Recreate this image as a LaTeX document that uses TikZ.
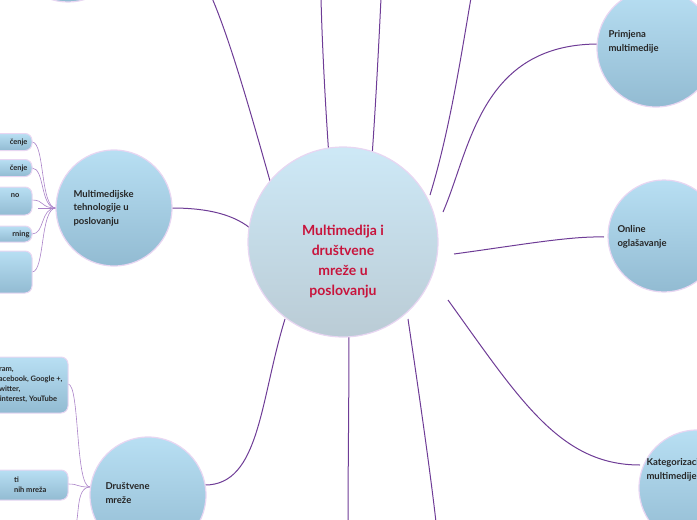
\documentclass[tikz,border=0pt]{standalone}
\usepackage{fontspec}
\setmainfont{Lato}
\begin{document}
\begin{tikzpicture}[x=1pt,y=-1pt,
  bub/.style={circle,draw=lav,line width=1.2pt,top color=bubT,bottom color=bubB,inner sep=0pt},
  pill/.style={rounded corners=7pt,draw=lav,line width=1pt,top color=bubT,bottom color=bubB},
  con/.style={draw=conc,line width=1pt},
  sub/.style={draw=subc,line width=0.6pt},
  lbl/.style={font=\bfseries\fontsize{9.5}{13.5}\selectfont,align=left,anchor=west,text=black!85},
  sml/.style={font=\bfseries\fontsize{7.5}{10}\selectfont,align=left,anchor=east,text=black!85}]
\definecolor{lav}{RGB}{232,214,242}
\definecolor{bubT}{RGB}{184,223,243}
\definecolor{bubB}{RGB}{146,187,210}
\definecolor{conc}{RGB}{110,60,150}
\definecolor{subc}{RGB}{170,130,200}
\definecolor{crim}{RGB}{200,20,60}
\useasboundingbox (0,0) rectangle (697,520);
\clip (0,0) rectangle (697,520);
\coordinate (t1) at (212,-2); \coordinate (t2) at (321,-2);
\coordinate (t3) at (381,-2); \coordinate (t4) at (471,-2);
\coordinate (b1) at (348,522); \coordinate (b2) at (436,522);
\draw[con] (272,188) .. controls (250,110) and (230,40) .. (t1);
\draw[con] (329,157) .. controls (325,100) and (322,40) .. (t2);
\draw[con] (372,157) .. controls (376,100) and (379,40) .. (t3);
\draw[con] (430,195) .. controls (450,130) and (462,50) .. (t4);
\draw[con] (443,212) .. controls (470,150) and (480,45) .. (597,44);
\draw[con] (454,254) .. controls (520,245) and (570,236) .. (604,237);
\draw[con] (448,300) .. controls (520,400) and (560,465) .. (640,465);
\draw[con] (408,319) .. controls (420,400) and (430,470) .. (b2);
\draw[con] (349,328) .. controls (349,400) and (348,470) .. (b1);
\draw[con] (285,319) .. controls (260,400) and (260,485) .. (205,485);
\draw[con] (172,208) .. controls (200,208) and (230,212) .. (250,228);
\foreach \y in {142,168,200,234,272} \draw[sub] (56,208) .. controls (40,208) and (45,\y) .. (32,\y);
\draw[sub] (56,208) -- (38,208);
\foreach \y in {384,484} \draw[sub] (90,487) .. controls (75,487) and (80,\y) .. (68,\y);
\draw[sub] (90,487) .. controls (75,487) and (80,520) .. (75,525);
\node[circle,draw=lav,line width=1.2pt,top color=bubT!70!white,bottom color=gray!30!bubB!60!white,minimum size=190pt,inner sep=0pt] (c) at (343,242) {};
\node[text=crim,font=\bfseries\fontsize{14}{20}\selectfont,align=center] at (343,262) {Multimedija i\\društvene\\mreže u\\poslovanju};
\node[bub,minimum size=116pt] (mt) at (114,208) {};
\node[lbl] at (70,208) {Multimedijske\\tehnologije u\\poslovanju};
\node[bub,minimum size=118pt] (pm) at (656,48) {};
\node[lbl] at (605,42) {Primjena\\multimedije};
\node[bub,minimum size=112pt] (oo) at (664,236) {};
\node[lbl] at (614,237) {Online\\oglašavanje};
\node[bub,minimum size=116pt] (kk) at (697,488) {};
\node[lbl] at (643,470) {Kategorizacija\\multimedije};
\node[bub,minimum size=116pt] (dm) at (148,495) {};
\node[lbl] at (102,493) {Društvene\\mreže};
\node[bub,minimum size=112pt] (tl) at (68,-54) {};
\node[pill,minimum width=60pt,minimum height=17pt] (p1) at (2,142) {};
\node[sml] at (31,142) {čenje};
\node[pill,minimum width=60pt,minimum height=17pt] (p2) at (2,168) {};
\node[sml] at (31,168) {čenje};
\node[pill,minimum width=60pt,minimum height=28pt] (p3) at (2,201) {};
\node[sml] at (23,196) {no};
\node[pill,minimum width=60pt,minimum height=16pt] (p4) at (2,234) {};
\node[sml] at (33,234) {rning};
\node[pill,minimum width=60pt,minimum height=42pt] (p5) at (2,272) {};
\node[pill,minimum width=140pt,minimum height=56pt] (q1) at (-2,385) {};
\node[sml] at (66,385) {gram,\\Facebook, Google +,\\Twitter,\\Pinterest, YouTube};
\node[pill,minimum width=140pt,minimum height=30pt] (q2) at (-2,485) {};
\node[sml] at (50,485) {ti\\nih mreža};
\end{tikzpicture}
\end{document}
